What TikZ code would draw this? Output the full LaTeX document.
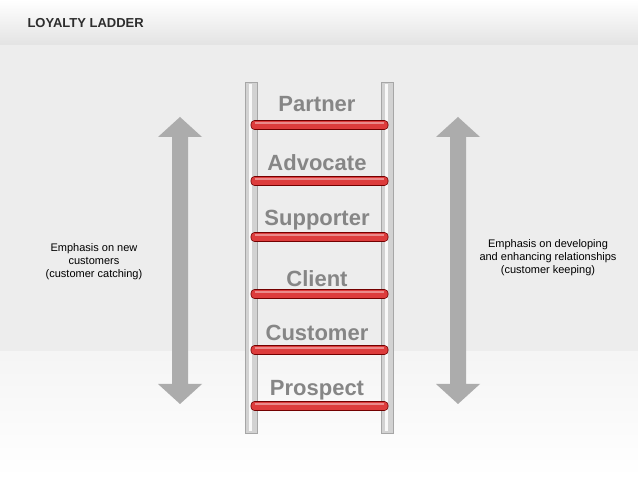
\documentclass[tikz,border=0pt]{standalone}
\usepackage{fontspec}
\setmainfont{Liberation Sans}
\begin{document}
\begin{tikzpicture}[x=1pt,y=-1pt,
  rung/.style={fill=red!70!gray!90, draw=red!45!black, rounded corners=3.5pt, line width=0.6pt},
  rail/.style={fill=gray!35, draw=gray!70, line width=0.6pt},
  lab/.style={font=\bfseries\fontsize{22}{24}\selectfont, text=gray!95!white},
  note/.style={font=\fontsize{11}{13}\selectfont, align=center}]
\useasboundingbox (0,0) rectangle (638,478);
\shade[top color=white, bottom color=gray!22] (0,0) rectangle (638,45);
\fill[gray!14] (0,45) rectangle (638,352);
\shade[top color=gray!8, bottom color=white] (0,352) rectangle (638,478);
\node[anchor=west, font=\bfseries\fontsize{13}{15}\selectfont, text=gray!35!black] (title) at (24,23) {LOYALTY LADDER};
% rails
\draw[rail] (245,82) rectangle (257,433);
\fill[white,opacity=0.85] (249,84) rectangle (252,431);
\draw[rail] (381,82) rectangle (393,433);
\fill[white,opacity=0.85] (385,84) rectangle (388,431);
% rungs
\foreach \y/\t/\ly in {125/Partner/104,181/Advocate/163,237/Supporter/220,294/Client/279,350/Customer/333,406/Prospect/390}{
  \draw[rung] (251,\y-4.5) rectangle (388,\y+4.5);
  \fill[white,opacity=0.4] (255,\y-3) rectangle (384,\y-1);
  \node[lab] (n\t) at (317,\ly) {\t};
}
% arrows
\foreach \x/\n in {180/L,458/R}{
  \fill[gray!65] (\x,117) -- (\x+22,137) -- (\x+8,137) -- (\x+8,384) -- (\x+22,384) -- (\x,404)
    -- (\x-22,384) -- (\x-8,384) -- (\x-8,137) -- (\x-22,137) -- cycle;
}
\node[note] (tl) at (94,262) {Emphasis on new\\customers\\(customer catching)};
\node[note] (tr) at (548,258) {Emphasis on developing\\and enhancing relationships\\(customer keeping)};
\end{tikzpicture}
\end{document}
